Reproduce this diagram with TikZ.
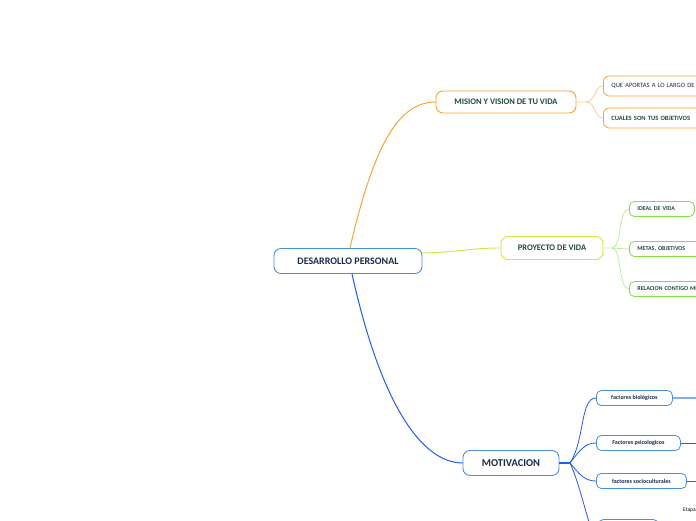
\documentclass[tikz,border=0pt]{standalone}
\usepackage{fontspec}
\setmainfont{Carlito}
\begin{document}
\begin{tikzpicture}[x=1pt,y=-1pt,
 box/.style={draw=#1,rounded corners=7pt,line width=0.9pt,fill=white,inner sep=0pt},
 sbox/.style={draw=#1,rounded corners=5pt,line width=0.8pt,fill=white,anchor=west,minimum height=15pt,inner xsep=8pt,inner ysep=0pt,align=left},
 ]
\definecolor{navy}{HTML}{1B2A4A}
\definecolor{dgreen}{HTML}{1E4D3A}
\definecolor{cblue}{HTML}{4A90D9}
\definecolor{corange}{HTML}{F7A531}
\definecolor{lorange}{HTML}{FAC98A}
\definecolor{cyell}{HTML}{C8EB3C}
\definecolor{cgreen}{HTML}{7FE040}
\definecolor{lgreen}{HTML}{B5EE8A}
\definecolor{bblue}{HTML}{1F5CF0}
\useasboundingbox (0,0) rectangle (696,520);
\clip (0,0) rectangle (696,520);
\fill[white] (0,0) rectangle (696,520);
% connectors
\draw[corange,line width=1pt] (350,248) .. controls (375,140) and (400,102) .. (436,102);
\draw[lorange,line width=0.7pt] (576,102) -- (586,102) .. controls (596,102) and (594,86) .. (603,86);
\draw[lorange,line width=0.7pt] (586,102) .. controls (596,102) and (594,118) .. (603,118);
\draw[cyell,line width=0.9pt] (422,253) .. controls (460,252) and (470,248) .. (501,248);
\draw[lgreen,line width=0.7pt] (603,248) -- (612,248) .. controls (622,248) and (618,209) .. (629,209);
\draw[lgreen,line width=0.7pt] (612,248) -- (629,249);
\draw[lgreen,line width=0.7pt] (612,248) .. controls (622,248) and (618,289) .. (629,289);
\draw[bblue,line width=1pt] (352,274) .. controls (380,400) and (420,463) .. (463,463);
% nodes
\node[box=cblue,minimum width=148pt,minimum height=25pt,font=\fontsize{10}{11}\selectfont\bfseries\color{navy}] (root) at (348,261) {DESARROLLO PERSONAL};
\node[box=corange,minimum width=140pt,minimum height=22pt,font=\fontsize{8.5}{9}\selectfont\bfseries\color{dgreen}] (mis) at (506,102) {MISION Y VISION DE TU VIDA};
\node[sbox=corange,text width=150pt,rounded corners=6pt,minimum height=20pt,font=\fontsize{6.5}{7}\selectfont\color{navy}] (q) at (603,86) {QUE APORTAS A LO LARGO DE TU VIDA};
\node[sbox=corange,text width=150pt,rounded corners=6pt,minimum height=20pt,font=\fontsize{6.5}{7}\selectfont\bfseries\color{dgreen}] (c) at (603,118) {CUALES SON TUS OBJETIVOS};
\node[box=cyell,minimum width=102pt,minimum height=23pt,font=\fontsize{8.5}{9}\selectfont\bfseries\color{dgreen}] (pro) at (552,248) {PROYECTO DE VIDA};
\node[sbox=cgreen,text width=49pt,font=\fontsize{6}{7}\selectfont\bfseries\color{dgreen}] (i) at (629,209) {IDEAL DE VIDA};
\node[sbox=cgreen,text width=120pt,font=\fontsize{6}{7}\selectfont\bfseries\color{dgreen}] (m) at (629,249) {METAS, OBJETIVOS};
\node[sbox=cgreen,text width=120pt,font=\fontsize{6}{7}\selectfont\bfseries\color{dgreen}] (r) at (629,289) {RELACION CONTIGO MISMO};
\node[box=cblue,minimum width=96pt,minimum height=25pt,font=\fontsize{10.5}{11}\selectfont\bfseries\color{navy}] (mot) at (511,463) {MOTIVACION};
\node[sbox=cblue,minimum width=76pt,align=center,font=\fontsize{6}{7}\selectfont\bfseries\color{navy}] (fb) at (596,398) {factores biológicos};
\node[sbox=cblue,minimum width=84pt,align=center,font=\fontsize{6}{7}\selectfont\bfseries\color{navy}] (fp) at (596,443) {Factores psicologicos};
\node[sbox=cblue,minimum width=90pt,align=center,font=\fontsize{6}{7}\selectfont\bfseries\color{navy}] (fs) at (596,481) {factores socioculturales};
\node[sbox=cblue,minimum width=60pt,minimum height=15pt] (fx) at (598,527) {};
\node[anchor=west,inner sep=0pt,font=\fontsize{5.5}{6}\selectfont] (et) at (683,510) {Etapas};
\draw[bblue,line width=2pt] (mot.east) -- (570,463);
\draw[bblue,line width=0.8pt] (570,463) .. controls (585,440) and (580,398) .. (fb.west);
\draw[bblue,line width=0.8pt] (570,463) .. controls (580,450) and (585,443) .. (fp.west);
\draw[bblue,line width=0.8pt] (570,463) .. controls (580,475) and (585,481) .. (fs.west);
\draw[bblue,line width=0.8pt] (570,463) .. controls (578,480) and (585,510) .. (590,525);
\draw[cblue!70,line width=1.5pt] (fb.east) -- (700,398);
\draw[bblue,line width=0.8pt] (fp.east) -- (700,443);
\draw[bblue,line width=0.8pt] (fs.east) -- (700,481);
\end{tikzpicture}
\end{document}
